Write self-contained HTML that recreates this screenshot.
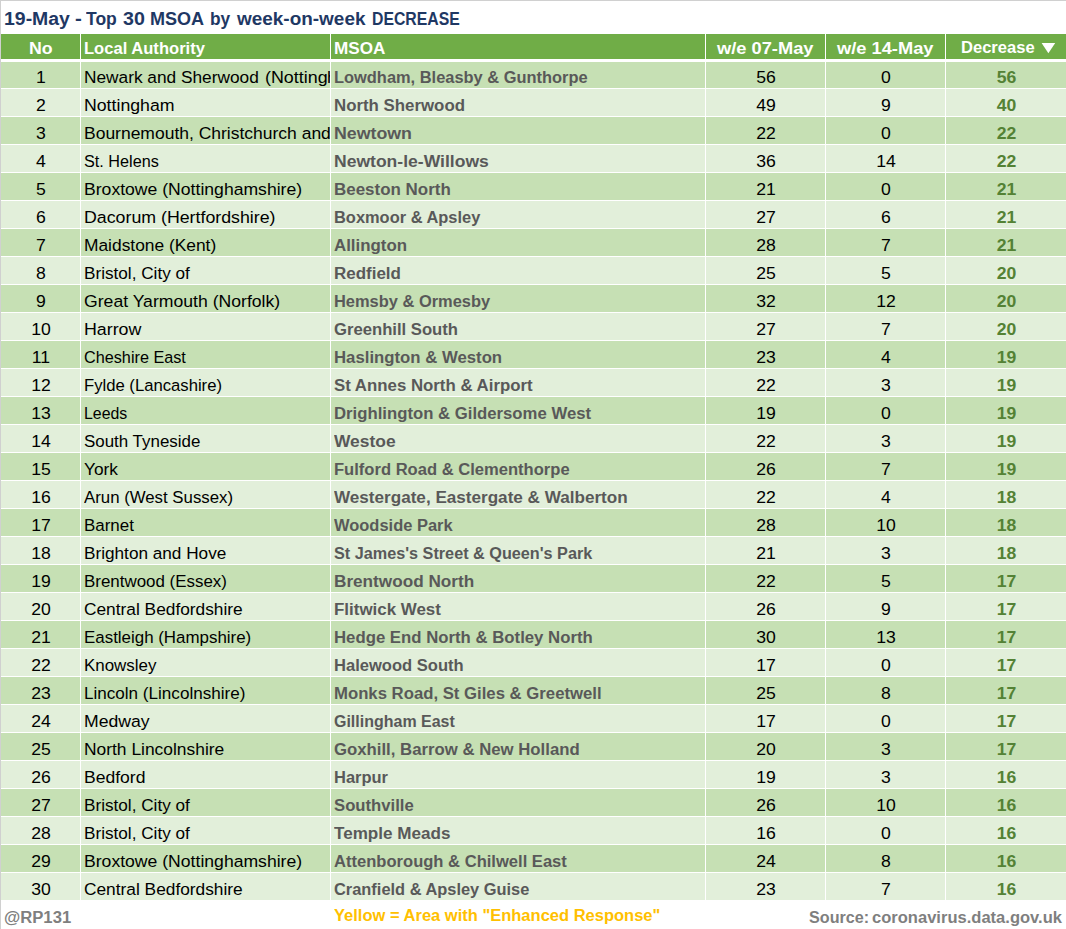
<!DOCTYPE html>
<html>
<head>
<meta charset="utf-8">
<title>Top 30 MSOA by week-on-week decrease</title>
<style>
html,body{margin:0;padding:0;background:#fff;}
body{width:1066px;height:929px;position:relative;overflow:hidden;font-family:"Liberation Sans",sans-serif;}
.b{position:absolute;}
.k{position:absolute;overflow:hidden;}
.s{position:absolute;white-space:nowrap;transform-origin:0 0;line-height:20px;height:20px;}
.n{position:absolute;white-space:nowrap;text-align:center;transform:translateX(0.5px) scaleX(1.05);font-size:16.8px;line-height:20px;height:20px;color:#000;}
.d{font-weight:bold;color:#548235;}
</style>
</head>
<body>
<div class="b" style="left:0;top:0;width:1066px;height:1px;background:#d0d0d0"></div>
<div class="b" style="left:0;top:0;width:1px;height:929px;background:#d0d0d0"></div>
<div class="b" style="left:1px;top:34px;width:79px;height:25px;background:#70ad47"></div>
<div class="b" style="left:81px;top:34px;width:249px;height:25px;background:#70ad47"></div>
<div class="b" style="left:331px;top:34px;width:374px;height:25px;background:#70ad47"></div>
<div class="b" style="left:706px;top:34px;width:119px;height:25px;background:#70ad47"></div>
<div class="b" style="left:826px;top:34px;width:119px;height:25px;background:#70ad47"></div>
<div class="b" style="left:946px;top:34px;width:120px;height:25px;background:#70ad47"></div>
<div class="b" style="left:1px;top:62px;width:79px;height:26px;background:#c6e0b4"></div>
<div class="b" style="left:81px;top:62px;width:249px;height:26px;background:#c6e0b4"></div>
<div class="b" style="left:331px;top:62px;width:374px;height:26px;background:#c6e0b4"></div>
<div class="b" style="left:706px;top:62px;width:119px;height:26px;background:#c6e0b4"></div>
<div class="b" style="left:826px;top:62px;width:119px;height:26px;background:#c6e0b4"></div>
<div class="b" style="left:946px;top:62px;width:120px;height:26px;background:#c6e0b4"></div>
<div class="b" style="left:1px;top:89px;width:79px;height:27px;background:#e2efda"></div>
<div class="b" style="left:81px;top:89px;width:249px;height:27px;background:#e2efda"></div>
<div class="b" style="left:331px;top:89px;width:374px;height:27px;background:#e2efda"></div>
<div class="b" style="left:706px;top:89px;width:119px;height:27px;background:#e2efda"></div>
<div class="b" style="left:826px;top:89px;width:119px;height:27px;background:#e2efda"></div>
<div class="b" style="left:946px;top:89px;width:120px;height:27px;background:#e2efda"></div>
<div class="b" style="left:1px;top:117px;width:79px;height:27px;background:#c6e0b4"></div>
<div class="b" style="left:81px;top:117px;width:249px;height:27px;background:#c6e0b4"></div>
<div class="b" style="left:331px;top:117px;width:374px;height:27px;background:#c6e0b4"></div>
<div class="b" style="left:706px;top:117px;width:119px;height:27px;background:#c6e0b4"></div>
<div class="b" style="left:826px;top:117px;width:119px;height:27px;background:#c6e0b4"></div>
<div class="b" style="left:946px;top:117px;width:120px;height:27px;background:#c6e0b4"></div>
<div class="b" style="left:1px;top:145px;width:79px;height:27px;background:#e2efda"></div>
<div class="b" style="left:81px;top:145px;width:249px;height:27px;background:#e2efda"></div>
<div class="b" style="left:331px;top:145px;width:374px;height:27px;background:#e2efda"></div>
<div class="b" style="left:706px;top:145px;width:119px;height:27px;background:#e2efda"></div>
<div class="b" style="left:826px;top:145px;width:119px;height:27px;background:#e2efda"></div>
<div class="b" style="left:946px;top:145px;width:120px;height:27px;background:#e2efda"></div>
<div class="b" style="left:1px;top:173px;width:79px;height:27px;background:#c6e0b4"></div>
<div class="b" style="left:81px;top:173px;width:249px;height:27px;background:#c6e0b4"></div>
<div class="b" style="left:331px;top:173px;width:374px;height:27px;background:#c6e0b4"></div>
<div class="b" style="left:706px;top:173px;width:119px;height:27px;background:#c6e0b4"></div>
<div class="b" style="left:826px;top:173px;width:119px;height:27px;background:#c6e0b4"></div>
<div class="b" style="left:946px;top:173px;width:120px;height:27px;background:#c6e0b4"></div>
<div class="b" style="left:1px;top:201px;width:79px;height:27px;background:#e2efda"></div>
<div class="b" style="left:81px;top:201px;width:249px;height:27px;background:#e2efda"></div>
<div class="b" style="left:331px;top:201px;width:374px;height:27px;background:#e2efda"></div>
<div class="b" style="left:706px;top:201px;width:119px;height:27px;background:#e2efda"></div>
<div class="b" style="left:826px;top:201px;width:119px;height:27px;background:#e2efda"></div>
<div class="b" style="left:946px;top:201px;width:120px;height:27px;background:#e2efda"></div>
<div class="b" style="left:1px;top:229px;width:79px;height:27px;background:#c6e0b4"></div>
<div class="b" style="left:81px;top:229px;width:249px;height:27px;background:#c6e0b4"></div>
<div class="b" style="left:331px;top:229px;width:374px;height:27px;background:#c6e0b4"></div>
<div class="b" style="left:706px;top:229px;width:119px;height:27px;background:#c6e0b4"></div>
<div class="b" style="left:826px;top:229px;width:119px;height:27px;background:#c6e0b4"></div>
<div class="b" style="left:946px;top:229px;width:120px;height:27px;background:#c6e0b4"></div>
<div class="b" style="left:1px;top:257px;width:79px;height:27px;background:#e2efda"></div>
<div class="b" style="left:81px;top:257px;width:249px;height:27px;background:#e2efda"></div>
<div class="b" style="left:331px;top:257px;width:374px;height:27px;background:#e2efda"></div>
<div class="b" style="left:706px;top:257px;width:119px;height:27px;background:#e2efda"></div>
<div class="b" style="left:826px;top:257px;width:119px;height:27px;background:#e2efda"></div>
<div class="b" style="left:946px;top:257px;width:120px;height:27px;background:#e2efda"></div>
<div class="b" style="left:1px;top:285px;width:79px;height:27px;background:#c6e0b4"></div>
<div class="b" style="left:81px;top:285px;width:249px;height:27px;background:#c6e0b4"></div>
<div class="b" style="left:331px;top:285px;width:374px;height:27px;background:#c6e0b4"></div>
<div class="b" style="left:706px;top:285px;width:119px;height:27px;background:#c6e0b4"></div>
<div class="b" style="left:826px;top:285px;width:119px;height:27px;background:#c6e0b4"></div>
<div class="b" style="left:946px;top:285px;width:120px;height:27px;background:#c6e0b4"></div>
<div class="b" style="left:1px;top:313px;width:79px;height:27px;background:#e2efda"></div>
<div class="b" style="left:81px;top:313px;width:249px;height:27px;background:#e2efda"></div>
<div class="b" style="left:331px;top:313px;width:374px;height:27px;background:#e2efda"></div>
<div class="b" style="left:706px;top:313px;width:119px;height:27px;background:#e2efda"></div>
<div class="b" style="left:826px;top:313px;width:119px;height:27px;background:#e2efda"></div>
<div class="b" style="left:946px;top:313px;width:120px;height:27px;background:#e2efda"></div>
<div class="b" style="left:1px;top:341px;width:79px;height:27px;background:#c6e0b4"></div>
<div class="b" style="left:81px;top:341px;width:249px;height:27px;background:#c6e0b4"></div>
<div class="b" style="left:331px;top:341px;width:374px;height:27px;background:#c6e0b4"></div>
<div class="b" style="left:706px;top:341px;width:119px;height:27px;background:#c6e0b4"></div>
<div class="b" style="left:826px;top:341px;width:119px;height:27px;background:#c6e0b4"></div>
<div class="b" style="left:946px;top:341px;width:120px;height:27px;background:#c6e0b4"></div>
<div class="b" style="left:1px;top:369px;width:79px;height:27px;background:#e2efda"></div>
<div class="b" style="left:81px;top:369px;width:249px;height:27px;background:#e2efda"></div>
<div class="b" style="left:331px;top:369px;width:374px;height:27px;background:#e2efda"></div>
<div class="b" style="left:706px;top:369px;width:119px;height:27px;background:#e2efda"></div>
<div class="b" style="left:826px;top:369px;width:119px;height:27px;background:#e2efda"></div>
<div class="b" style="left:946px;top:369px;width:120px;height:27px;background:#e2efda"></div>
<div class="b" style="left:1px;top:397px;width:79px;height:27px;background:#c6e0b4"></div>
<div class="b" style="left:81px;top:397px;width:249px;height:27px;background:#c6e0b4"></div>
<div class="b" style="left:331px;top:397px;width:374px;height:27px;background:#c6e0b4"></div>
<div class="b" style="left:706px;top:397px;width:119px;height:27px;background:#c6e0b4"></div>
<div class="b" style="left:826px;top:397px;width:119px;height:27px;background:#c6e0b4"></div>
<div class="b" style="left:946px;top:397px;width:120px;height:27px;background:#c6e0b4"></div>
<div class="b" style="left:1px;top:425px;width:79px;height:27px;background:#e2efda"></div>
<div class="b" style="left:81px;top:425px;width:249px;height:27px;background:#e2efda"></div>
<div class="b" style="left:331px;top:425px;width:374px;height:27px;background:#e2efda"></div>
<div class="b" style="left:706px;top:425px;width:119px;height:27px;background:#e2efda"></div>
<div class="b" style="left:826px;top:425px;width:119px;height:27px;background:#e2efda"></div>
<div class="b" style="left:946px;top:425px;width:120px;height:27px;background:#e2efda"></div>
<div class="b" style="left:1px;top:453px;width:79px;height:27px;background:#c6e0b4"></div>
<div class="b" style="left:81px;top:453px;width:249px;height:27px;background:#c6e0b4"></div>
<div class="b" style="left:331px;top:453px;width:374px;height:27px;background:#c6e0b4"></div>
<div class="b" style="left:706px;top:453px;width:119px;height:27px;background:#c6e0b4"></div>
<div class="b" style="left:826px;top:453px;width:119px;height:27px;background:#c6e0b4"></div>
<div class="b" style="left:946px;top:453px;width:120px;height:27px;background:#c6e0b4"></div>
<div class="b" style="left:1px;top:481px;width:79px;height:27px;background:#e2efda"></div>
<div class="b" style="left:81px;top:481px;width:249px;height:27px;background:#e2efda"></div>
<div class="b" style="left:331px;top:481px;width:374px;height:27px;background:#e2efda"></div>
<div class="b" style="left:706px;top:481px;width:119px;height:27px;background:#e2efda"></div>
<div class="b" style="left:826px;top:481px;width:119px;height:27px;background:#e2efda"></div>
<div class="b" style="left:946px;top:481px;width:120px;height:27px;background:#e2efda"></div>
<div class="b" style="left:1px;top:509px;width:79px;height:27px;background:#c6e0b4"></div>
<div class="b" style="left:81px;top:509px;width:249px;height:27px;background:#c6e0b4"></div>
<div class="b" style="left:331px;top:509px;width:374px;height:27px;background:#c6e0b4"></div>
<div class="b" style="left:706px;top:509px;width:119px;height:27px;background:#c6e0b4"></div>
<div class="b" style="left:826px;top:509px;width:119px;height:27px;background:#c6e0b4"></div>
<div class="b" style="left:946px;top:509px;width:120px;height:27px;background:#c6e0b4"></div>
<div class="b" style="left:1px;top:537px;width:79px;height:27px;background:#e2efda"></div>
<div class="b" style="left:81px;top:537px;width:249px;height:27px;background:#e2efda"></div>
<div class="b" style="left:331px;top:537px;width:374px;height:27px;background:#e2efda"></div>
<div class="b" style="left:706px;top:537px;width:119px;height:27px;background:#e2efda"></div>
<div class="b" style="left:826px;top:537px;width:119px;height:27px;background:#e2efda"></div>
<div class="b" style="left:946px;top:537px;width:120px;height:27px;background:#e2efda"></div>
<div class="b" style="left:1px;top:565px;width:79px;height:27px;background:#c6e0b4"></div>
<div class="b" style="left:81px;top:565px;width:249px;height:27px;background:#c6e0b4"></div>
<div class="b" style="left:331px;top:565px;width:374px;height:27px;background:#c6e0b4"></div>
<div class="b" style="left:706px;top:565px;width:119px;height:27px;background:#c6e0b4"></div>
<div class="b" style="left:826px;top:565px;width:119px;height:27px;background:#c6e0b4"></div>
<div class="b" style="left:946px;top:565px;width:120px;height:27px;background:#c6e0b4"></div>
<div class="b" style="left:1px;top:593px;width:79px;height:27px;background:#e2efda"></div>
<div class="b" style="left:81px;top:593px;width:249px;height:27px;background:#e2efda"></div>
<div class="b" style="left:331px;top:593px;width:374px;height:27px;background:#e2efda"></div>
<div class="b" style="left:706px;top:593px;width:119px;height:27px;background:#e2efda"></div>
<div class="b" style="left:826px;top:593px;width:119px;height:27px;background:#e2efda"></div>
<div class="b" style="left:946px;top:593px;width:120px;height:27px;background:#e2efda"></div>
<div class="b" style="left:1px;top:621px;width:79px;height:27px;background:#c6e0b4"></div>
<div class="b" style="left:81px;top:621px;width:249px;height:27px;background:#c6e0b4"></div>
<div class="b" style="left:331px;top:621px;width:374px;height:27px;background:#c6e0b4"></div>
<div class="b" style="left:706px;top:621px;width:119px;height:27px;background:#c6e0b4"></div>
<div class="b" style="left:826px;top:621px;width:119px;height:27px;background:#c6e0b4"></div>
<div class="b" style="left:946px;top:621px;width:120px;height:27px;background:#c6e0b4"></div>
<div class="b" style="left:1px;top:649px;width:79px;height:27px;background:#e2efda"></div>
<div class="b" style="left:81px;top:649px;width:249px;height:27px;background:#e2efda"></div>
<div class="b" style="left:331px;top:649px;width:374px;height:27px;background:#e2efda"></div>
<div class="b" style="left:706px;top:649px;width:119px;height:27px;background:#e2efda"></div>
<div class="b" style="left:826px;top:649px;width:119px;height:27px;background:#e2efda"></div>
<div class="b" style="left:946px;top:649px;width:120px;height:27px;background:#e2efda"></div>
<div class="b" style="left:1px;top:677px;width:79px;height:27px;background:#c6e0b4"></div>
<div class="b" style="left:81px;top:677px;width:249px;height:27px;background:#c6e0b4"></div>
<div class="b" style="left:331px;top:677px;width:374px;height:27px;background:#c6e0b4"></div>
<div class="b" style="left:706px;top:677px;width:119px;height:27px;background:#c6e0b4"></div>
<div class="b" style="left:826px;top:677px;width:119px;height:27px;background:#c6e0b4"></div>
<div class="b" style="left:946px;top:677px;width:120px;height:27px;background:#c6e0b4"></div>
<div class="b" style="left:1px;top:705px;width:79px;height:27px;background:#e2efda"></div>
<div class="b" style="left:81px;top:705px;width:249px;height:27px;background:#e2efda"></div>
<div class="b" style="left:331px;top:705px;width:374px;height:27px;background:#e2efda"></div>
<div class="b" style="left:706px;top:705px;width:119px;height:27px;background:#e2efda"></div>
<div class="b" style="left:826px;top:705px;width:119px;height:27px;background:#e2efda"></div>
<div class="b" style="left:946px;top:705px;width:120px;height:27px;background:#e2efda"></div>
<div class="b" style="left:1px;top:733px;width:79px;height:27px;background:#c6e0b4"></div>
<div class="b" style="left:81px;top:733px;width:249px;height:27px;background:#c6e0b4"></div>
<div class="b" style="left:331px;top:733px;width:374px;height:27px;background:#c6e0b4"></div>
<div class="b" style="left:706px;top:733px;width:119px;height:27px;background:#c6e0b4"></div>
<div class="b" style="left:826px;top:733px;width:119px;height:27px;background:#c6e0b4"></div>
<div class="b" style="left:946px;top:733px;width:120px;height:27px;background:#c6e0b4"></div>
<div class="b" style="left:1px;top:761px;width:79px;height:27px;background:#e2efda"></div>
<div class="b" style="left:81px;top:761px;width:249px;height:27px;background:#e2efda"></div>
<div class="b" style="left:331px;top:761px;width:374px;height:27px;background:#e2efda"></div>
<div class="b" style="left:706px;top:761px;width:119px;height:27px;background:#e2efda"></div>
<div class="b" style="left:826px;top:761px;width:119px;height:27px;background:#e2efda"></div>
<div class="b" style="left:946px;top:761px;width:120px;height:27px;background:#e2efda"></div>
<div class="b" style="left:1px;top:789px;width:79px;height:27px;background:#c6e0b4"></div>
<div class="b" style="left:81px;top:789px;width:249px;height:27px;background:#c6e0b4"></div>
<div class="b" style="left:331px;top:789px;width:374px;height:27px;background:#c6e0b4"></div>
<div class="b" style="left:706px;top:789px;width:119px;height:27px;background:#c6e0b4"></div>
<div class="b" style="left:826px;top:789px;width:119px;height:27px;background:#c6e0b4"></div>
<div class="b" style="left:946px;top:789px;width:120px;height:27px;background:#c6e0b4"></div>
<div class="b" style="left:1px;top:817px;width:79px;height:27px;background:#e2efda"></div>
<div class="b" style="left:81px;top:817px;width:249px;height:27px;background:#e2efda"></div>
<div class="b" style="left:331px;top:817px;width:374px;height:27px;background:#e2efda"></div>
<div class="b" style="left:706px;top:817px;width:119px;height:27px;background:#e2efda"></div>
<div class="b" style="left:826px;top:817px;width:119px;height:27px;background:#e2efda"></div>
<div class="b" style="left:946px;top:817px;width:120px;height:27px;background:#e2efda"></div>
<div class="b" style="left:1px;top:845px;width:79px;height:27px;background:#c6e0b4"></div>
<div class="b" style="left:81px;top:845px;width:249px;height:27px;background:#c6e0b4"></div>
<div class="b" style="left:331px;top:845px;width:374px;height:27px;background:#c6e0b4"></div>
<div class="b" style="left:706px;top:845px;width:119px;height:27px;background:#c6e0b4"></div>
<div class="b" style="left:826px;top:845px;width:119px;height:27px;background:#c6e0b4"></div>
<div class="b" style="left:946px;top:845px;width:120px;height:27px;background:#c6e0b4"></div>
<div class="b" style="left:1px;top:873px;width:79px;height:27px;background:#e2efda"></div>
<div class="b" style="left:81px;top:873px;width:249px;height:27px;background:#e2efda"></div>
<div class="b" style="left:331px;top:873px;width:374px;height:27px;background:#e2efda"></div>
<div class="b" style="left:706px;top:873px;width:119px;height:27px;background:#e2efda"></div>
<div class="b" style="left:826px;top:873px;width:119px;height:27px;background:#e2efda"></div>
<div class="b" style="left:946px;top:873px;width:120px;height:27px;background:#e2efda"></div>
<svg class="b" style="left:1041px;top:42px" width="16" height="13" viewBox="0 0 16 13"><polygon points="0.6,1.0 14.2,1.0 7.4,11.2" fill="#fff"/></svg>
<div class="n" style="left:1px;top:68.18px;width:79px">1</div>
<div class="n" style="left:706px;top:68.18px;width:119px">56</div>
<div class="n" style="left:826px;top:68.18px;width:119px">0</div>
<div class="n d" style="left:946px;top:68.18px;width:120px">56</div>
<div class="n" style="left:1px;top:96.18px;width:79px">2</div>
<div class="n" style="left:706px;top:96.18px;width:119px">49</div>
<div class="n" style="left:826px;top:96.18px;width:119px">9</div>
<div class="n d" style="left:946px;top:96.18px;width:120px">40</div>
<div class="n" style="left:1px;top:124.18px;width:79px">3</div>
<div class="n" style="left:706px;top:124.18px;width:119px">22</div>
<div class="n" style="left:826px;top:124.18px;width:119px">0</div>
<div class="n d" style="left:946px;top:124.18px;width:120px">22</div>
<div class="n" style="left:1px;top:152.18px;width:79px">4</div>
<div class="n" style="left:706px;top:152.18px;width:119px">36</div>
<div class="n" style="left:826px;top:152.18px;width:119px">14</div>
<div class="n d" style="left:946px;top:152.18px;width:120px">22</div>
<div class="n" style="left:1px;top:180.18px;width:79px">5</div>
<div class="n" style="left:706px;top:180.18px;width:119px">21</div>
<div class="n" style="left:826px;top:180.18px;width:119px">0</div>
<div class="n d" style="left:946px;top:180.18px;width:120px">21</div>
<div class="n" style="left:1px;top:208.18px;width:79px">6</div>
<div class="n" style="left:706px;top:208.18px;width:119px">27</div>
<div class="n" style="left:826px;top:208.18px;width:119px">6</div>
<div class="n d" style="left:946px;top:208.18px;width:120px">21</div>
<div class="n" style="left:1px;top:236.18px;width:79px">7</div>
<div class="n" style="left:706px;top:236.18px;width:119px">28</div>
<div class="n" style="left:826px;top:236.18px;width:119px">7</div>
<div class="n d" style="left:946px;top:236.18px;width:120px">21</div>
<div class="n" style="left:1px;top:264.18px;width:79px">8</div>
<div class="n" style="left:706px;top:264.18px;width:119px">25</div>
<div class="n" style="left:826px;top:264.18px;width:119px">5</div>
<div class="n d" style="left:946px;top:264.18px;width:120px">20</div>
<div class="n" style="left:1px;top:292.18px;width:79px">9</div>
<div class="n" style="left:706px;top:292.18px;width:119px">32</div>
<div class="n" style="left:826px;top:292.18px;width:119px">12</div>
<div class="n d" style="left:946px;top:292.18px;width:120px">20</div>
<div class="n" style="left:1px;top:320.18px;width:79px">10</div>
<div class="n" style="left:706px;top:320.18px;width:119px">27</div>
<div class="n" style="left:826px;top:320.18px;width:119px">7</div>
<div class="n d" style="left:946px;top:320.18px;width:120px">20</div>
<div class="n" style="left:1px;top:348.18px;width:79px">11</div>
<div class="n" style="left:706px;top:348.18px;width:119px">23</div>
<div class="n" style="left:826px;top:348.18px;width:119px">4</div>
<div class="n d" style="left:946px;top:348.18px;width:120px">19</div>
<div class="n" style="left:1px;top:376.18px;width:79px">12</div>
<div class="n" style="left:706px;top:376.18px;width:119px">22</div>
<div class="n" style="left:826px;top:376.18px;width:119px">3</div>
<div class="n d" style="left:946px;top:376.18px;width:120px">19</div>
<div class="n" style="left:1px;top:404.18px;width:79px">13</div>
<div class="n" style="left:706px;top:404.18px;width:119px">19</div>
<div class="n" style="left:826px;top:404.18px;width:119px">0</div>
<div class="n d" style="left:946px;top:404.18px;width:120px">19</div>
<div class="n" style="left:1px;top:432.18px;width:79px">14</div>
<div class="n" style="left:706px;top:432.18px;width:119px">22</div>
<div class="n" style="left:826px;top:432.18px;width:119px">3</div>
<div class="n d" style="left:946px;top:432.18px;width:120px">19</div>
<div class="n" style="left:1px;top:460.18px;width:79px">15</div>
<div class="n" style="left:706px;top:460.18px;width:119px">26</div>
<div class="n" style="left:826px;top:460.18px;width:119px">7</div>
<div class="n d" style="left:946px;top:460.18px;width:120px">19</div>
<div class="n" style="left:1px;top:488.18px;width:79px">16</div>
<div class="n" style="left:706px;top:488.18px;width:119px">22</div>
<div class="n" style="left:826px;top:488.18px;width:119px">4</div>
<div class="n d" style="left:946px;top:488.18px;width:120px">18</div>
<div class="n" style="left:1px;top:516.18px;width:79px">17</div>
<div class="n" style="left:706px;top:516.18px;width:119px">28</div>
<div class="n" style="left:826px;top:516.18px;width:119px">10</div>
<div class="n d" style="left:946px;top:516.18px;width:120px">18</div>
<div class="n" style="left:1px;top:544.18px;width:79px">18</div>
<div class="n" style="left:706px;top:544.18px;width:119px">21</div>
<div class="n" style="left:826px;top:544.18px;width:119px">3</div>
<div class="n d" style="left:946px;top:544.18px;width:120px">18</div>
<div class="n" style="left:1px;top:572.18px;width:79px">19</div>
<div class="n" style="left:706px;top:572.18px;width:119px">22</div>
<div class="n" style="left:826px;top:572.18px;width:119px">5</div>
<div class="n d" style="left:946px;top:572.18px;width:120px">17</div>
<div class="n" style="left:1px;top:600.18px;width:79px">20</div>
<div class="n" style="left:706px;top:600.18px;width:119px">26</div>
<div class="n" style="left:826px;top:600.18px;width:119px">9</div>
<div class="n d" style="left:946px;top:600.18px;width:120px">17</div>
<div class="n" style="left:1px;top:628.18px;width:79px">21</div>
<div class="n" style="left:706px;top:628.18px;width:119px">30</div>
<div class="n" style="left:826px;top:628.18px;width:119px">13</div>
<div class="n d" style="left:946px;top:628.18px;width:120px">17</div>
<div class="n" style="left:1px;top:656.18px;width:79px">22</div>
<div class="n" style="left:706px;top:656.18px;width:119px">17</div>
<div class="n" style="left:826px;top:656.18px;width:119px">0</div>
<div class="n d" style="left:946px;top:656.18px;width:120px">17</div>
<div class="n" style="left:1px;top:684.18px;width:79px">23</div>
<div class="n" style="left:706px;top:684.18px;width:119px">25</div>
<div class="n" style="left:826px;top:684.18px;width:119px">8</div>
<div class="n d" style="left:946px;top:684.18px;width:120px">17</div>
<div class="n" style="left:1px;top:712.18px;width:79px">24</div>
<div class="n" style="left:706px;top:712.18px;width:119px">17</div>
<div class="n" style="left:826px;top:712.18px;width:119px">0</div>
<div class="n d" style="left:946px;top:712.18px;width:120px">17</div>
<div class="n" style="left:1px;top:740.18px;width:79px">25</div>
<div class="n" style="left:706px;top:740.18px;width:119px">20</div>
<div class="n" style="left:826px;top:740.18px;width:119px">3</div>
<div class="n d" style="left:946px;top:740.18px;width:120px">17</div>
<div class="n" style="left:1px;top:768.18px;width:79px">26</div>
<div class="n" style="left:706px;top:768.18px;width:119px">19</div>
<div class="n" style="left:826px;top:768.18px;width:119px">3</div>
<div class="n d" style="left:946px;top:768.18px;width:120px">16</div>
<div class="n" style="left:1px;top:796.18px;width:79px">27</div>
<div class="n" style="left:706px;top:796.18px;width:119px">26</div>
<div class="n" style="left:826px;top:796.18px;width:119px">10</div>
<div class="n d" style="left:946px;top:796.18px;width:120px">16</div>
<div class="n" style="left:1px;top:824.18px;width:79px">28</div>
<div class="n" style="left:706px;top:824.18px;width:119px">16</div>
<div class="n" style="left:826px;top:824.18px;width:119px">0</div>
<div class="n d" style="left:946px;top:824.18px;width:120px">16</div>
<div class="n" style="left:1px;top:852.18px;width:79px">29</div>
<div class="n" style="left:706px;top:852.18px;width:119px">24</div>
<div class="n" style="left:826px;top:852.18px;width:119px">8</div>
<div class="n d" style="left:946px;top:852.18px;width:120px">16</div>
<div class="n" style="left:1px;top:880.18px;width:79px">30</div>
<div class="n" style="left:706px;top:880.18px;width:119px">23</div>
<div class="n" style="left:826px;top:880.18px;width:119px">7</div>
<div class="n d" style="left:946px;top:880.18px;width:120px">16</div>
<div class="k" style="left:81px;top:62px;width:249px;height:26px"><span class="s" id="la0" style="left:2.70px;top:6.18px;font-size:16.8px;transform:scaleX(1.0293);color:#000;">Newark and Sherwood</span></div>
<div class="k" style="left:81px;top:62px;width:249px;height:26px"><span class="s" id="xa0" style="left:183.84px;top:6.18px;font-size:16.8px;transform:scaleX(1.0657);color:#000;">(Notting</span></div>
<div class="k" style="left:81px;top:62px;width:249px;height:26px"><span class="s" id="xb0" style="left:246.28px;top:6.18px;font-size:16.8px;transform:scaleX(1.0600);color:#000;">hamshire)</span></div>
<div class="k" style="left:331px;top:62px;width:374px;height:26px"><span class="s" id="ms0" style="left:2.70px;top:6.18px;font-size:16.8px;transform:scaleX(0.9782);color:#595959;font-weight:bold;">Lowdham, Bleasby &amp; Gunthorpe</span></div>
<div class="k" style="left:81px;top:89px;width:249px;height:27px"><span class="s" id="la1" style="left:2.70px;top:7.18px;font-size:16.8px;transform:scaleX(1.0545);color:#000;">Nottingham</span></div>
<div class="k" style="left:331px;top:89px;width:374px;height:27px"><span class="s" id="ms1" style="left:2.70px;top:7.18px;font-size:16.8px;transform:scaleX(1.0035);color:#595959;font-weight:bold;">North Sherwood</span></div>
<div class="k" style="left:81px;top:117px;width:249px;height:27px"><span class="s" id="la2" style="left:2.70px;top:7.18px;font-size:16.8px;transform:scaleX(1.0418);color:#000;">Bournemouth, Christchurch and Poole</span></div>
<div class="k" style="left:331px;top:117px;width:374px;height:27px"><span class="s" id="ms2" style="left:2.70px;top:7.18px;font-size:16.8px;transform:scaleX(1.0584);color:#595959;font-weight:bold;">Newtown</span></div>
<div class="k" style="left:81px;top:145px;width:249px;height:27px"><span class="s" id="la3" style="left:2.70px;top:7.18px;font-size:16.8px;transform:scaleX(0.9663);color:#000;">St. Helens</span></div>
<div class="k" style="left:331px;top:145px;width:374px;height:27px"><span class="s" id="ms3" style="left:2.70px;top:7.18px;font-size:16.8px;transform:scaleX(1.0453);color:#595959;font-weight:bold;">Newton-le-Willows</span></div>
<div class="k" style="left:81px;top:173px;width:249px;height:27px"><span class="s" id="la4" style="left:2.70px;top:7.18px;font-size:16.8px;transform:scaleX(1.0488);color:#000;">Broxtowe (Nottinghamshire)</span></div>
<div class="k" style="left:331px;top:173px;width:374px;height:27px"><span class="s" id="ms4" style="left:2.70px;top:7.18px;font-size:16.8px;transform:scaleX(1.0102);color:#595959;font-weight:bold;">Beeston North</span></div>
<div class="k" style="left:81px;top:201px;width:249px;height:27px"><span class="s" id="la5" style="left:2.70px;top:7.18px;font-size:16.8px;transform:scaleX(1.0584);color:#000;">Dacorum (Hertfordshire)</span></div>
<div class="k" style="left:331px;top:201px;width:374px;height:27px"><span class="s" id="ms5" style="left:2.70px;top:7.18px;font-size:16.8px;transform:scaleX(0.9785);color:#595959;font-weight:bold;">Boxmoor &amp; Apsley</span></div>
<div class="k" style="left:81px;top:229px;width:249px;height:27px"><span class="s" id="la6" style="left:2.70px;top:7.18px;font-size:16.8px;transform:scaleX(1.0347);color:#000;">Maidstone (Kent)</span></div>
<div class="k" style="left:331px;top:229px;width:374px;height:27px"><span class="s" id="ms6" style="left:2.70px;top:7.18px;font-size:16.8px;transform:scaleX(1.0049);color:#595959;font-weight:bold;">Allington</span></div>
<div class="k" style="left:81px;top:257px;width:249px;height:27px"><span class="s" id="la7" style="left:2.70px;top:7.18px;font-size:16.8px;transform:scaleX(1.0221);color:#000;">Bristol, City of</span></div>
<div class="k" style="left:331px;top:257px;width:374px;height:27px"><span class="s" id="ms7" style="left:2.70px;top:7.18px;font-size:16.8px;transform:scaleX(1.0114);color:#595959;font-weight:bold;">Redfield</span></div>
<div class="k" style="left:81px;top:285px;width:249px;height:27px"><span class="s" id="la8" style="left:2.70px;top:7.18px;font-size:16.8px;transform:scaleX(1.0501);color:#000;">Great Yarmouth (Norfolk)</span></div>
<div class="k" style="left:331px;top:285px;width:374px;height:27px"><span class="s" id="ms8" style="left:2.70px;top:7.18px;font-size:16.8px;transform:scaleX(0.9792);color:#595959;font-weight:bold;">Hemsby &amp; Ormesby</span></div>
<div class="k" style="left:81px;top:313px;width:249px;height:27px"><span class="s" id="la9" style="left:2.70px;top:7.18px;font-size:16.8px;transform:scaleX(1.0611);color:#000;">Harrow</span></div>
<div class="k" style="left:331px;top:313px;width:374px;height:27px"><span class="s" id="ms9" style="left:2.70px;top:7.18px;font-size:16.8px;transform:scaleX(0.9927);color:#595959;font-weight:bold;">Greenhill South</span></div>
<div class="k" style="left:81px;top:341px;width:249px;height:27px"><span class="s" id="la10" style="left:2.70px;top:7.18px;font-size:16.8px;transform:scaleX(0.9666);color:#000;">Cheshire East</span></div>
<div class="k" style="left:331px;top:341px;width:374px;height:27px"><span class="s" id="ms10" style="left:2.70px;top:7.18px;font-size:16.8px;transform:scaleX(0.9980);color:#595959;font-weight:bold;">Haslington &amp; Weston</span></div>
<div class="k" style="left:81px;top:369px;width:249px;height:27px"><span class="s" id="la11" style="left:2.70px;top:7.18px;font-size:16.8px;transform:scaleX(0.9929);color:#000;">Fylde (Lancashire)</span></div>
<div class="k" style="left:331px;top:369px;width:374px;height:27px"><span class="s" id="ms11" style="left:2.70px;top:7.18px;font-size:16.8px;transform:scaleX(1.0019);color:#595959;font-weight:bold;">St Annes North &amp; Airport</span></div>
<div class="k" style="left:81px;top:397px;width:249px;height:27px"><span class="s" id="la12" style="left:2.70px;top:7.18px;font-size:16.8px;transform:scaleX(0.9452);color:#000;">Leeds</span></div>
<div class="k" style="left:331px;top:397px;width:374px;height:27px"><span class="s" id="ms12" style="left:2.70px;top:7.18px;font-size:16.8px;transform:scaleX(0.9965);color:#595959;font-weight:bold;">Drighlington &amp; Gildersome West</span></div>
<div class="k" style="left:81px;top:425px;width:249px;height:27px"><span class="s" id="la13" style="left:2.70px;top:7.18px;font-size:16.8px;transform:scaleX(1.0083);color:#000;">South Tyneside</span></div>
<div class="k" style="left:331px;top:425px;width:374px;height:27px"><span class="s" id="ms13" style="left:2.70px;top:7.18px;font-size:16.8px;transform:scaleX(1.0378);color:#595959;font-weight:bold;">Westoe</span></div>
<div class="k" style="left:81px;top:453px;width:249px;height:27px"><span class="s" id="la14" style="left:2.70px;top:7.18px;font-size:16.8px;transform:scaleX(1.0304);color:#000;">York</span></div>
<div class="k" style="left:331px;top:453px;width:374px;height:27px"><span class="s" id="ms14" style="left:2.70px;top:7.18px;font-size:16.8px;transform:scaleX(0.9873);color:#595959;font-weight:bold;">Fulford Road &amp; Clementhorpe</span></div>
<div class="k" style="left:81px;top:481px;width:249px;height:27px"><span class="s" id="la15" style="left:2.70px;top:7.18px;font-size:16.8px;transform:scaleX(1.0007);color:#000;">Arun (West Sussex)</span></div>
<div class="k" style="left:331px;top:481px;width:374px;height:27px"><span class="s" id="ms15" style="left:2.70px;top:7.18px;font-size:16.8px;transform:scaleX(1.0191);color:#595959;font-weight:bold;">Westergate, Eastergate &amp; Walberton</span></div>
<div class="k" style="left:81px;top:509px;width:249px;height:27px"><span class="s" id="la16" style="left:2.70px;top:7.18px;font-size:16.8px;transform:scaleX(1.0097);color:#000;">Barnet</span></div>
<div class="k" style="left:331px;top:509px;width:374px;height:27px"><span class="s" id="ms16" style="left:2.70px;top:7.18px;font-size:16.8px;transform:scaleX(0.9809);color:#595959;font-weight:bold;">Woodside Park</span></div>
<div class="k" style="left:81px;top:537px;width:249px;height:27px"><span class="s" id="la17" style="left:2.70px;top:7.18px;font-size:16.8px;transform:scaleX(1.0238);color:#000;">Brighton and Hove</span></div>
<div class="k" style="left:331px;top:537px;width:374px;height:27px"><span class="s" id="ms17" style="left:2.70px;top:7.18px;font-size:16.8px;transform:scaleX(0.9663);color:#595959;font-weight:bold;">St James's Street &amp; Queen's Park</span></div>
<div class="k" style="left:81px;top:565px;width:249px;height:27px"><span class="s" id="la18" style="left:2.70px;top:7.18px;font-size:16.8px;transform:scaleX(1.0085);color:#000;">Brentwood (Essex)</span></div>
<div class="k" style="left:331px;top:565px;width:374px;height:27px"><span class="s" id="ms18" style="left:2.70px;top:7.18px;font-size:16.8px;transform:scaleX(1.0227);color:#595959;font-weight:bold;">Brentwood North</span></div>
<div class="k" style="left:81px;top:593px;width:249px;height:27px"><span class="s" id="la19" style="left:2.70px;top:7.18px;font-size:16.8px;transform:scaleX(1.0312);color:#000;">Central Bedfordshire</span></div>
<div class="k" style="left:331px;top:593px;width:374px;height:27px"><span class="s" id="ms19" style="left:2.70px;top:7.18px;font-size:16.8px;transform:scaleX(1.0084);color:#595959;font-weight:bold;">Flitwick West</span></div>
<div class="k" style="left:81px;top:621px;width:249px;height:27px"><span class="s" id="la20" style="left:2.70px;top:7.18px;font-size:16.8px;transform:scaleX(1.0074);color:#000;">Eastleigh (Hampshire)</span></div>
<div class="k" style="left:331px;top:621px;width:374px;height:27px"><span class="s" id="ms20" style="left:2.70px;top:7.18px;font-size:16.8px;transform:scaleX(0.9984);color:#595959;font-weight:bold;">Hedge End North &amp; Botley North</span></div>
<div class="k" style="left:81px;top:649px;width:249px;height:27px"><span class="s" id="la21" style="left:2.70px;top:7.18px;font-size:16.8px;transform:scaleX(1.0084);color:#000;">Knowsley</span></div>
<div class="k" style="left:331px;top:649px;width:374px;height:27px"><span class="s" id="ms21" style="left:2.70px;top:7.18px;font-size:16.8px;transform:scaleX(0.9867);color:#595959;font-weight:bold;">Halewood South</span></div>
<div class="k" style="left:81px;top:677px;width:249px;height:27px"><span class="s" id="la22" style="left:2.70px;top:7.18px;font-size:16.8px;transform:scaleX(1.0177);color:#000;">Lincoln (Lincolnshire)</span></div>
<div class="k" style="left:331px;top:677px;width:374px;height:27px"><span class="s" id="ms22" style="left:2.70px;top:7.18px;font-size:16.8px;transform:scaleX(0.9965);color:#595959;font-weight:bold;">Monks Road, St Giles &amp; Greetwell</span></div>
<div class="k" style="left:81px;top:705px;width:249px;height:27px"><span class="s" id="la23" style="left:2.70px;top:7.18px;font-size:16.8px;transform:scaleX(1.0499);color:#000;">Medway</span></div>
<div class="k" style="left:331px;top:705px;width:374px;height:27px"><span class="s" id="ms23" style="left:2.70px;top:7.18px;font-size:16.8px;transform:scaleX(0.9525);color:#595959;font-weight:bold;">Gillingham East</span></div>
<div class="k" style="left:81px;top:733px;width:249px;height:27px"><span class="s" id="la24" style="left:2.70px;top:7.18px;font-size:16.8px;transform:scaleX(1.0368);color:#000;">North Lincolnshire</span></div>
<div class="k" style="left:331px;top:733px;width:374px;height:27px"><span class="s" id="ms24" style="left:2.70px;top:7.18px;font-size:16.8px;transform:scaleX(0.9981);color:#595959;font-weight:bold;">Goxhill, Barrow &amp; New Holland</span></div>
<div class="k" style="left:81px;top:761px;width:249px;height:27px"><span class="s" id="la25" style="left:2.70px;top:7.18px;font-size:16.8px;transform:scaleX(1.0458);color:#000;">Bedford</span></div>
<div class="k" style="left:331px;top:761px;width:374px;height:27px"><span class="s" id="ms25" style="left:2.70px;top:7.18px;font-size:16.8px;transform:scaleX(0.9818);color:#595959;font-weight:bold;">Harpur</span></div>
<div class="k" style="left:81px;top:789px;width:249px;height:27px"><span class="s" id="la26" style="left:2.70px;top:7.18px;font-size:16.8px;transform:scaleX(1.0221);color:#000;">Bristol, City of</span></div>
<div class="k" style="left:331px;top:789px;width:374px;height:27px"><span class="s" id="ms26" style="left:2.70px;top:7.18px;font-size:16.8px;transform:scaleX(0.9945);color:#595959;font-weight:bold;">Southville</span></div>
<div class="k" style="left:81px;top:817px;width:249px;height:27px"><span class="s" id="la27" style="left:2.70px;top:7.18px;font-size:16.8px;transform:scaleX(1.0221);color:#000;">Bristol, City of</span></div>
<div class="k" style="left:331px;top:817px;width:374px;height:27px"><span class="s" id="ms27" style="left:2.70px;top:7.18px;font-size:16.8px;transform:scaleX(1.0179);color:#595959;font-weight:bold;">Temple Meads</span></div>
<div class="k" style="left:81px;top:845px;width:249px;height:27px"><span class="s" id="la28" style="left:2.70px;top:7.18px;font-size:16.8px;transform:scaleX(1.0488);color:#000;">Broxtowe (Nottinghamshire)</span></div>
<div class="k" style="left:331px;top:845px;width:374px;height:27px"><span class="s" id="ms28" style="left:2.70px;top:7.18px;font-size:16.8px;transform:scaleX(0.9872);color:#595959;font-weight:bold;">Attenborough &amp; Chilwell East</span></div>
<div class="k" style="left:81px;top:873px;width:249px;height:27px"><span class="s" id="la29" style="left:2.70px;top:7.18px;font-size:16.8px;transform:scaleX(1.0312);color:#000;">Central Bedfordshire</span></div>
<div class="k" style="left:331px;top:873px;width:374px;height:27px"><span class="s" id="ms29" style="left:2.70px;top:7.18px;font-size:16.8px;transform:scaleX(0.9773);color:#595959;font-weight:bold;">Cranfield &amp; Apsley Guise</span></div>
<div class="k" style="left:1px;top:34px;width:79px;height:25px"><span class="s" id="hNo" style="left:27.71px;top:5.18px;font-size:16.8px;transform:scaleX(1.0576);color:#fff;font-weight:bold;">No</span></div>
<div class="k" style="left:81px;top:34px;width:249px;height:25px"><span class="s" id="hLA" style="left:2.80px;top:5.18px;font-size:16.8px;transform:scaleX(0.9876);color:#fff;font-weight:bold;">Local Authority</span></div>
<div class="k" style="left:331px;top:34px;width:374px;height:25px"><span class="s" id="hMS" style="left:2.86px;top:5.18px;font-size:16.8px;transform:scaleX(1.0193);color:#fff;font-weight:bold;">MSOA</span></div>
<div class="k" style="left:706px;top:34px;width:119px;height:25px"><span class="s" id="hW1" style="left:11.00px;top:5.18px;font-size:16.8px;transform:scaleX(1.0892);color:#fff;font-weight:bold;">w/e 07-May</span></div>
<div class="k" style="left:826px;top:34px;width:119px;height:25px"><span class="s" id="hW2" style="left:11.10px;top:5.18px;font-size:16.8px;transform:scaleX(1.0892);color:#fff;font-weight:bold;">w/e 14-May</span></div>
<div class="k" style="left:946px;top:34px;width:120px;height:25px"><span class="s" id="hDe" style="left:14.60px;top:3.12px;font-size:16.4px;transform:scaleX(1.0102);color:#fff;font-weight:bold;">Decrease</span></div>
<div class="k" style="left:1px;top:1px;width:1065px;height:32px"><span class="s" id="t0" style="left:3.17px;top:7.66px;font-size:18.3px;transform:scaleX(1.0637);color:#1f3864;font-weight:bold;">19-May</span></div>
<div class="k" style="left:1px;top:1px;width:1065px;height:32px"><span class="s" id="t1" style="left:73.80px;top:7.66px;font-size:18.3px;transform:scaleX(1.1197);color:#1f3864;font-weight:bold;">-</span></div>
<div class="k" style="left:1px;top:1px;width:1065px;height:32px"><span class="s" id="t2" style="left:84.73px;top:7.66px;font-size:18.3px;transform:scaleX(0.9585);color:#1f3864;font-weight:bold;">Top</span></div>
<div class="k" style="left:1px;top:1px;width:1065px;height:32px"><span class="s" id="t3" style="left:121.81px;top:7.66px;font-size:18.3px;transform:scaleX(1.0745);color:#1f3864;font-weight:bold;">30</span></div>
<div class="k" style="left:1px;top:1px;width:1065px;height:32px"><span class="s" id="t4" style="left:149.33px;top:7.66px;font-size:18.3px;transform:scaleX(0.9867);color:#1f3864;font-weight:bold;">MSOA</span></div>
<div class="k" style="left:1px;top:1px;width:1065px;height:32px"><span class="s" id="t5" style="left:209.07px;top:7.66px;font-size:18.3px;transform:scaleX(0.9470);color:#1f3864;font-weight:bold;">by</span></div>
<div class="k" style="left:1px;top:1px;width:1065px;height:32px"><span class="s" id="t6" style="left:235.91px;top:7.66px;font-size:18.3px;transform:scaleX(1.0364);color:#1f3864;font-weight:bold;">week-on-week</span></div>
<div class="k" style="left:1px;top:1px;width:1065px;height:32px"><span class="s" id="t7" style="left:371.19px;top:7.66px;font-size:18.3px;transform:scaleX(0.8643);color:#1f3864;font-weight:bold;">DECREASE</span></div>
<div class="k" style="left:1px;top:901px;width:329px;height:28px"><span class="s" id="fRP" style="left:3.06px;top:7.18px;font-size:16.8px;transform:scaleX(0.9924);color:#7f7f7f;font-weight:bold;">@RP131</span></div>
<div class="k" style="left:331px;top:901px;width:374px;height:28px"><span class="s" id="fY" style="left:2.71px;top:5.18px;font-size:16.8px;transform:scaleX(0.9832);color:#ffc000;font-weight:bold;">Yellow = Area with "Enhanced Response"</span></div>
<div class="k" style="left:706px;top:901px;width:360px;height:28px"><span class="s" id="fS1" style="left:103.21px;top:7.18px;font-size:16.8px;transform:scaleX(0.9619);color:#7f7f7f;font-weight:bold;">Source:</span></div>
<div class="k" style="left:706px;top:901px;width:360px;height:28px"><span class="s" id="fS2" style="left:165.93px;top:7.18px;font-size:16.8px;transform:scaleX(0.9858);color:#7f7f7f;font-weight:bold;">coronavirus.data.gov.uk</span></div>
</body>
</html>
